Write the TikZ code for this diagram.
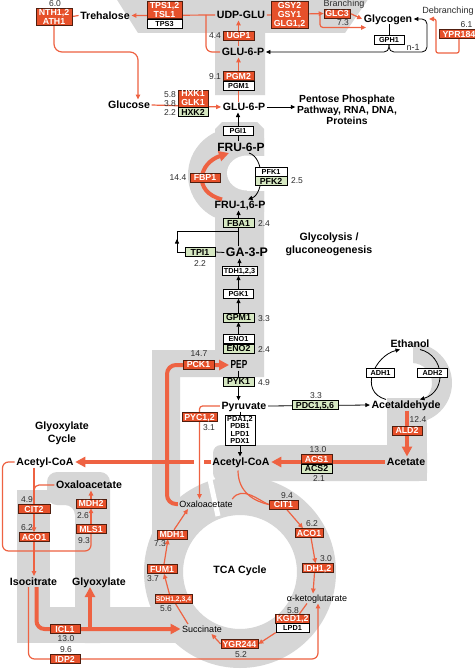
\documentclass[tikz,border=0pt]{standalone}
\usepackage{fontspec}
\setmainfont{Liberation Sans}
\usepackage{graphicx}
\usetikzlibrary{arrows.meta}
\pgfdeclarelayer{bg}
\pgfdeclarelayer{lines}
\pgfsetlayers{bg,lines,main}
\definecolor{bggray}{RGB}{214,214,214}
\definecolor{boxor}{RGB}{230,80,42}
\definecolor{boxline}{RGB}{80,30,15}
\definecolor{lineor}{RGB}{238,98,66}
\definecolor{boxgr}{RGB}{214,232,194}
\definecolor{numgray}{RGB}{45,45,45}
\begin{document}
\begin{tikzpicture}[x=1pt,y=-1pt,
  lbl/.style={font=\bfseries\fontsize{10.6}{11.5}\selectfont, inner sep=1.5pt, text height=7.6pt, text depth=0pt},
  lblm/.style={font=\bfseries\fontsize{10.6}{13}\selectfont, inner sep=1.5pt, align=center},
  rtxt/.style={font=\fontsize{9}{10}\selectfont, inner sep=1.5pt, text height=6.5pt, text depth=0pt},
  num/.style={font=\fontsize{8.5}{9}\selectfont, inner sep=0pt, text=numgray, text height=6.1pt, text depth=0pt},
  bx/.style={line width=0.6pt, inner xsep=1pt, inner ysep=1pt, align=center},
  ob/.style={bx, draw=boxline, fill=boxor, text=white, font=\bfseries\fontsize{8.8}{9}\selectfont},
  gb/.style={bx, draw=black, fill=boxgr, text=black, font=\bfseries\fontsize{8.8}{9}\selectfont},
  wb/.style={bx, draw=black, fill=white, text=black, font=\bfseries\fontsize{7.3}{7.6}\selectfont},
  one/.style={text height=6.3pt, text depth=0pt, minimum height=8.8pt},
  onew/.style={text height=5.3pt, text depth=0pt, minimum height=8.8pt},
  oline/.style={draw=lineor, line width=1.2pt},
  oarr/.style={oline, -{Triangle[length=5pt,width=4.4pt]}},
  othk/.style={draw=lineor, line width=4pt},
  othick/.style={othk, -{Triangle[length=10pt,width=10pt]}},
  bline/.style={draw=black, line width=0.8pt},
  barr/.style={bline, -{Triangle[length=4.5pt,width=4pt]}}
]
\useasboundingbox (0,0) rectangle (474,669);

% ---------------- backgrounds ----------------
\begin{pgfonlayer}{bg}
\fill[white] (0,0) rectangle (474,669);
\fill[bggray] (114,-5) -- (371,-5) -- (345,33) -- (265,33) -- (265,95) -- (215,95) -- (215,33) -- (138,33) -- cycle;
\fill[bggray] (222,122) -- (257,122) -- (264,129) -- (264,377) -- (180,377) -- (180,545) -- (152,545) -- (152,350) -- (215,350) -- (215,129) -- cycle;
\begin{scope}
  \clip (140,100) rectangle (264,240);
  \fill[bggray] (235,175) circle[radius=47];
\end{scope}
\fill[white] (247,173) ellipse[x radius=20, y radius=17.5];
\fill[white] (247,155.5) rectangle (266,190.5);
\fill[bggray, rounded corners=8] (213,445) rectangle (427,481);
\fill[bggray] (387,398) rectangle (427,481);
\begin{scope}
  \clip (413,330) rectangle (470,430);
  \fill[bggray, even odd rule] (412,383) circle[radius=40] (412,383) circle[radius=20];
\end{scope}
\fill[bggray, even odd rule] (240,572) circle[radius=96] (240,572) circle[radius=57];
\draw[white, line width=5pt] (207,466) -- (218,516);
\fill[bggray] (17,490) rectangle (50,643);
\fill[bggray, rounded corners=10] (47,505) -- (47,472) -- (110,472) -- (110,643) -- (75,643) -- (75,505) -- cycle;
\fill[bggray] (17,607) rectangle (182,643);
\end{pgfonlayer}

% ---------------- nodes ----------------
\node[lbl] (treh) at (105,15.5) {Trehalose};
\node[lbl] (udpglu) at (241,15) {UDP-GLU};
\node[lbl] (glycogen) at (388,19) {Glycogen};
\node[lbl] (g6ptop) at (243,52) {GLU-6-P};
\node[lbl] (glucose) at (129,105) {Glucose};
\node[lbl] (g6p) at (244,107) {GLU-6-P};
\node[lblm, font=\bfseries\fontsize{10.3}{11}\selectfont] (ppp) at (347,110) {Pentose Phosphate\\Pathway, RNA, DNA,\\Proteins};

\node[ob, minimum width=36pt] (nth) at (54,16.5) {NTH1,2\\ATH1};
\node[num] (n60) at (55,3.1) {6.0};
\node[ob, minimum width=35pt] (tps) at (164.5,10) {TPS1,2\\TSL1};
\node[wb, onew, minimum width=35pt, anchor=north] (tps3) at (tps.south) {TPS3};
\node[ob, minimum width=37pt] (gsy) at (289.5,15) {GSY2\\GSY1\\GLG1,2};
\node[ob, one, minimum width=26pt] (glc3) at (337,13.5) {GLC3};
\node[rtxt, text=numgray, inner sep=0.5pt] (branch) at (344,3.6) {Branching};
\node[num] (n73a) at (343,22) {7.3};
\node[ob, one, minimum width=31pt] (ugp1) at (238.5,35.5) {UGP1};
\node[num] (n44) at (215,35.5) {4.4};
\node[ob, one, minimum width=31pt] (pgm2) at (238.5,76) {PGM2};
\node[wb, onew, minimum width=31pt, anchor=north] (pgm1) at (pgm2.south) {PGM1};
\node[num] (n91) at (215,76) {9.1};
\node[wb, onew, minimum width=30pt] (gph1) at (389,39.5) {GPH1};
\node[rtxt, text=numgray] (nm1) at (413,47) {n-1};
\node[ob, one, minimum width=39pt] (ypr) at (459,34) {YPR184};
\node[rtxt, text=numgray, inner sep=0.5pt] (debr) at (448,10) {Debranching};
\node[num] (n61) at (466.5,24) {6.1};

\node[ob, minimum width=30pt] (hxk) at (193,98.5) {HXK1\\GLK1};
\node[gb, one, minimum width=30pt, anchor=north] (hxk2) at (hxk.south) {HXK2};
\node[num] (n58a) at (170,94) {5.8};
\node[num] (n38) at (170,103) {3.8};
\node[num] (n22a) at (170,112) {2.2};

\node[wb, onew, minimum width=30pt] (pgi1) at (238,131) {PGI1};
\node[lbl, font=\bfseries\fontsize{12}{13}\selectfont, text height=8.6pt] (f6p) at (241,147) {FRU-6-P};
\node[lbl] (f16p) at (240,205) {FRU-1,6-P};
\node[ob, one, minimum width=30pt] (fbp1) at (205,177.5) {FBP1};
\node[num] (n144) at (178,177.5) {14.4};
\node[wb, onew, minimum width=32pt] (pfk1) at (271,171.5) {PFK1};
\node[gb, one, minimum width=32pt, anchor=north] (pfk2) at (pfk1.south) {PFK2};
\node[num] (n25) at (297,180) {2.5};
\node[gb, one, minimum width=31pt] (fba1) at (238.5,223) {FBA1};
\node[num] (n24a) at (264,223) {2.4};
\node[lbl, font=\bfseries\fontsize{12.4}{13}\selectfont, text height=8.9pt] (ga3p) at (247,252.5) {GA-3-P};
\node[gb, one, minimum width=30pt] (tpi1) at (200,252) {TPI1};
\node[num] (n22b) at (200,263) {2.2};
\node[lblm] (glyco) at (329,244) {Glycolysis /\\gluconeogenesis};
\node[wb, onew, minimum width=35pt] (tdh) at (239.5,271) {TDH1,2,3};
\node[wb, onew, minimum width=30pt] (pgk1) at (238.5,294) {PGK1};
\node[gb, one, minimum width=31pt] (gpm1) at (238.5,317.5) {GPM1};
\node[num] (n33a) at (264,318) {3.3};
\node[wb, onew, minimum width=31pt] (eno1) at (238.5,339) {ENO1};
\node[gb, one, minimum width=31pt, anchor=north] (eno2) at (eno1.south) {ENO2};
\node[num] (n24b) at (264,349) {2.4};
\node[lbl] (pep) at (239,365) {\scalebox{0.78}[1.1]{PEP}};
\node[ob, one, minimum width=31pt] (pck1) at (198.5,364.5) {PCK1};
\node[num] (n147) at (199,353) {14.7};
\node[gb, one, minimum width=31pt] (pyk1) at (238.5,381.5) {PYK1};
\node[num] (n49a) at (264,382) {4.9};
\node[lbl] (pyr) at (244,406) {Pyruvate};
\node[gb, one, minimum width=46pt] (pdc) at (315,405) {PDC1,5,6};
\node[num] (n33b) at (316,395) {3.3};
\node[lbl] (acald) at (406,405) {Acetaldehyde};
\node[lbl] (ethanol) at (410,344) {Ethanol};
\node[wb, onew, minimum width=28pt] (adh1) at (380.5,372.5) {ADH1};
\node[wb, onew, minimum width=30pt] (adh2) at (432.5,372.5) {ADH2};
\node[ob, one, minimum width=35pt] (pyc) at (199.5,417) {PYC1,2};
\node[num] (n31) at (209,427) {3.1};
\node[wb, minimum width=30pt] (pda) at (240,430) {PDA1,2\\PDB1\\LPD1\\PDX1};
\node[ob, one, minimum width=30pt] (ald2) at (407,430.5) {ALD2};
\node[num] (n124) at (418,419.5) {12.4};
\node[lbl] (acetate) at (406,462) {Acetate};
\node[ob, one, minimum width=31pt] (acs1) at (316.5,459) {ACS1};
\node[gb, one, minimum width=31pt, anchor=north] (acs2) at (acs1.south) {ACS2};
\node[num] (n130a) at (318,449) {13.0};
\node[num] (n21) at (319,478) {2.1};
\node[lbl] (accoa) at (241,462) {Acetyl-CoA};
\node[lbl] (accoaL) at (45,462) {Acetyl-CoA};
\node[lblm] (glyoxcyc) at (62,433) {Glyoxylate\\Cycle};
\node[lbl] (oaaG) at (89,485) {Oxaloacetate};
\node[ob, one, minimum width=32pt] (cit2) at (34,509) {CIT2};
\node[num] (n49b) at (27,499.5) {4.9};
\node[ob, one, minimum width=30pt] (aco1g) at (34,537) {ACO1};
\node[num] (n62a) at (27,527.5) {6.2};
\node[ob, one, minimum width=30pt] (mdh2) at (91,503.5) {MDH2};
\node[num] (n26) at (83,515) {2.6};
\node[ob, one, minimum width=30pt] (mls1) at (91,529) {MLS1};
\node[num] (n93) at (84,540.5) {9.3};
\node[lbl] (isocit) at (33.5,581.5) {Isocitrate};
\node[lbl] (glyox) at (99,581.5) {Glyoxylate};
\node[ob, one, minimum width=30pt] (icl1) at (65,629) {ICL1};
\node[num] (n130b) at (66,638.5) {13.0};
\node[ob, one, minimum width=30pt] (idp2) at (65,659) {IDP2};
\node[num] (n96) at (66,649.5) {9.6};

\node[lbl] (tca) at (240,570) {TCA Cycle};
\node[rtxt] (oaa) at (206,504) {Oxaloacetate};
\node[ob, one, minimum width=29pt] (cit1) at (283.5,504.5) {CIT1};
\node[num] (n94) at (287,495) {9.4};
\node[ob, one, minimum width=28pt] (aco1) at (309,533) {ACO1};
\node[num] (n62b) at (312,523.5) {6.2};
\node[ob, one, minimum width=31pt] (idh) at (317.5,568) {IDH1,2};
\node[num] (n30) at (326,558) {3.0};
\node[rtxt] (akg) at (317,598.5) {α-ketoglutarate};
\node[ob, one, minimum width=33pt] (kgd) at (292.5,618.5) {KGD1,2};
\node[wb, onew, minimum width=33pt, anchor=north] (lpd1) at (kgd.south) {LPD1};
\node[num] (n58b) at (293,610) {5.8};
\node[ob, one, minimum width=37pt] (ygr) at (239.5,644) {YGR244};
\node[num] (n52) at (241,654) {5.2};
\node[rtxt] (succ) at (202,629) {Succinate};
\node[ob, one, minimum width=37pt, font=\bfseries\fontsize{6.8}{7}\selectfont, text height=4.9pt] (sdh) at (173.5,599) {SDH1,2,3,4};
\node[num] (n56) at (166,608) {5.6};
\node[ob, one, minimum width=30pt] (fum1) at (162,569) {FUM1};
\node[num] (n37) at (153,578.5) {3.7};
\node[ob, one, minimum width=30pt] (mdh1) at (172,534.5) {MDH1};
\node[num] (n73b) at (160,543.5) {7.3};

% ---------------- connectors ----------------
\begin{pgfonlayer}{lines}
\draw[oarr] (udpglu.west) -- (treh.east);
\coordinate (tj) at (206,15);
\draw[oline, rounded corners=6] (g6ptop.west) -| (tj);
\draw[oline] (nth.east) -- (treh.west);
\coordinate (gcA) at (138,52);
\draw[oarr, rounded corners=8] (nth.south) |- (gcA) -- (gcA |- glucose.north);
\draw[oarr] (ugp1.center |- g6ptop.north) -- (ugp1.center |- udpglu.south);
\draw[oarr] (udpglu.east) -- (glc3.west);
\draw[oarr] (glc3.east) -- (glycogen.west);
\coordinate (brS) at (320,14);
\coordinate (brE) at (366,27.5);
\draw[oarr, rounded corners=3] (brS) |- (brE);
\draw[bline] (glycogen.south -| gph1) -- (gph1.north);
\draw[barr, rounded corners=5] (gph1.south) |- (g6ptop.east);
\coordinate (gr) at (427,52);
\draw[barr, rounded corners=5] (gph1.south) |- (gr) |- (glycogen.east);
\coordinate (dbr) at (436,53);
\coordinate (dtip) at (429,19);
\draw[oarr, rounded corners=2] (ypr.south) |- (dbr) |- (dtip);

\draw[oarr] (glucose.east) -- (g6p.west);
\draw[oarr] (pgm2.center |- g6p.north) -- (pgm2.center |- g6ptop.south);
\draw[barr] (g6p.east) -- (g6p.east -| ppp.west);
\draw[barr] (pgi1.center |- f6p.north) -- (pgi1.center |- g6p.south);

\draw[othick] ([xshift=-18pt]f16p.north) .. controls +(-30,-8) and +(-30,10) .. ([xshift=-12pt]f6p.south);
\draw[barr] ([xshift=8pt]f6p.south) .. controls +(16,5) and +(16,-6) .. ([xshift=8pt]f16p.north);

\draw[bline] (fba1.center |- ga3p.north) -- (fba1.south);
\draw[barr] (fba1.north) -- (fba1.center |- f16p.south);
\coordinate (tpiL) at (177,252);
\coordinate (tpiT) at (177,231);
\coordinate (tpiM) at (177,239);
\draw[bline] (ga3p.west) -- (tpi1.east);
\draw[bline] (tpi1.west) -- (tpiL) -- (tpiT) -- (tpiT -| fba1);
\draw[barr] (tpiL) -- (tpiM);

\draw[barr] (tdh.north) -- (tdh.center |- ga3p.south);
\draw[barr] (pgk1.north) -- (pgk1.center |- tdh.south);
\draw[barr] (gpm1.north) -- (gpm1.center |- pgk1.south);
\draw[barr] (eno1.north) -- (eno1.center |- gpm1.south);
\draw[barr] (pyk1.center |- pep.south) -- (pyk1.center |- pyr.north);

\coordinate (pckc) at (167,365);
\draw[othick, rounded corners=9] (oaa.west) -| (pckc) -- (pep.west);
\draw[oarr, rounded corners=3] (pyr.west) -| (pyc.center |- oaa.north);

\draw[barr] (pyr.east) -- (acald.west);
\draw[barr] (pda.center |- pyr.south) -- (pda.center |- accoa.north);
\draw[barr] ([xshift=-20pt]acald.north) .. controls +(-28,-8) and +(-25,6) .. ([xshift=-10pt]ethanol.south);
\draw[barr] ([xshift=10pt]ethanol.south) .. controls +(25,6) and +(27,-8) .. ([xshift=14pt]acald.north);

\draw[othick] (ald2.center |- acald.south) -- (ald2.center |- acetate.north);
\draw[othick] (acetate.west) -- (accoa.east);
\coordinate (gapR) at (204,462);
\coordinate (gapL) at (194,462);
\draw[othk] (accoa.west) -- (gapR);
\draw[othick] (gapL) -- (accoaL.east);

\draw[oline] ([xshift=-3pt,yshift=-3pt]accoa.south) .. controls +(0,22) and +(-14,-3) .. (cit1.west);
\draw[oline] ([xshift=-2pt]oaa.north east) .. controls +(10,-14) and +(-10,-4) .. (cit1.west);
\draw[oarr] ([xshift=3pt]cit1.south) -- ([xshift=-6pt]aco1.north);
\draw[oarr] ([xshift=2pt]aco1.south) -- ([xshift=-2pt]idh.north);
\draw[oarr] ([xshift=-3pt]idh.south) -- ([xshift=-4pt]akg.north);
\draw[oline] ([xshift=-10pt]akg.south) -- ([xshift=7pt]kgd.north);
\draw[oarr] (lpd1.south west) -- (ygr.east);
\draw[oarr] (ygr.west) -- ([xshift=-12pt]succ.south east);
\draw[oline] ([xshift=-14pt]succ.north) -- ([xshift=2pt]sdh.south);
\draw[oarr] ([xshift=-4pt]sdh.north) -- ([xshift=2pt]fum1.south);
\draw[oarr] ([xshift=2pt]fum1.north) -- ([xshift=-4pt]mdh1.south);
\draw[oarr] ([xshift=2pt]mdh1.north) -- ([xshift=-18pt]oaa.south);

\coordinate (idpR) at (318,659);
\draw[oarr, rounded corners=6] ([xshift=-5pt]isocit.south) |- (idpR) -- (idpR |- akg.south);
\draw[othick, rounded corners=8] ([xshift=3pt]isocit.south) |- (succ.west);
\coordinate (glyb) at (90,629);
\draw[othick] (glyb) -- (glyb |- glyox.south);

\draw[oarr] (cit2.center |- accoaL.south) -- (aco1g.north);
\draw[oarr] (aco1g.south) -- (aco1g.center |- isocit.north);
\draw[oline, rounded corners=5] (oaaG.west) -| (cit2.north);
\draw[oarr] (mls1.north) -- (mdh2.south);
\draw[oarr] (mdh2.north) -- (mdh2.center |- oaaG.south);
\coordinate (lpa) at (2.5,551);
\draw[oline, rounded corners=6] (accoaL.west) -| (lpa) -| (mls1.south);
\end{pgfonlayer}
\end{tikzpicture}
\end{document}
